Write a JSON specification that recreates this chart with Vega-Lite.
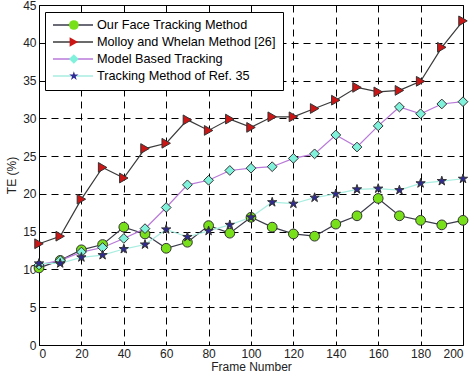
{
  "$schema": "https://vega.github.io/schema/vega-lite/v6.json",
  "width": 424,
  "height": 340,
  "autosize": {"type": "none"},
  "padding": {"left": 39, "top": 5, "right": 11, "bottom": 31},
  "background": "white",
  "config": {
    "view": {"stroke": "black", "strokeWidth": 1},
    "font": "Liberation Sans",
    "axis": {
      "grid": true,
      "gridColor": "black",
      "gridDash": [7, 5],
      "gridOpacity": 1,
      "gridWidth": 1,
      "domain": false,
      "ticks": false,
      "labelFont": "Liberation Sans",
      "labelFontSize": 12,
      "labelColor": "#222",
      "titleFont": "Liberation Sans",
      "titleFontSize": 12,
      "titleFontWeight": "normal",
      "titleColor": "#222",
      "labelPadding": 3
    }
  },
  "data": {
    "values": [
      {"f": 0, "te": 10.2, "s": "Our Face Tracking Method", "c": "a"},
      {"f": 10, "te": 11.2, "s": "Our Face Tracking Method", "c": "a"},
      {"f": 20, "te": 12.6, "s": "Our Face Tracking Method", "c": "a"},
      {"f": 30, "te": 13.3, "s": "Our Face Tracking Method", "c": "a"},
      {"f": 40, "te": 15.6, "s": "Our Face Tracking Method", "c": "a"},
      {"f": 50, "te": 14.7, "s": "Our Face Tracking Method", "c": "a"},
      {"f": 60, "te": 12.8, "s": "Our Face Tracking Method", "c": "a"},
      {"f": 70, "te": 13.6, "s": "Our Face Tracking Method", "c": "a"},
      {"f": 80, "te": 15.8, "s": "Our Face Tracking Method", "c": "a"},
      {"f": 90, "te": 14.8, "s": "Our Face Tracking Method", "c": "a"},
      {"f": 100, "te": 16.9, "s": "Our Face Tracking Method", "c": "a"},
      {"f": 110, "te": 15.6, "s": "Our Face Tracking Method", "c": "a"},
      {"f": 120, "te": 14.7, "s": "Our Face Tracking Method", "c": "a"},
      {"f": 130, "te": 14.4, "s": "Our Face Tracking Method", "c": "a"},
      {"f": 140, "te": 16.0, "s": "Our Face Tracking Method", "c": "a"},
      {"f": 150, "te": 17.1, "s": "Our Face Tracking Method", "c": "a"},
      {"f": 160, "te": 19.4, "s": "Our Face Tracking Method", "c": "a"},
      {"f": 170, "te": 17.1, "s": "Our Face Tracking Method", "c": "a"},
      {"f": 180, "te": 16.5, "s": "Our Face Tracking Method", "c": "a"},
      {"f": 190, "te": 15.9, "s": "Our Face Tracking Method", "c": "a"},
      {"f": 200, "te": 16.5, "s": "Our Face Tracking Method", "c": "a"},
      {"f": 0, "te": 13.4, "s": "Molloy and Whelan Method [26]", "c": "b"},
      {"f": 10, "te": 14.4, "s": "Molloy and Whelan Method [26]", "c": "b"},
      {"f": 20, "te": 19.3, "s": "Molloy and Whelan Method [26]", "c": "b"},
      {"f": 30, "te": 23.5, "s": "Molloy and Whelan Method [26]", "c": "b"},
      {"f": 40, "te": 22.1, "s": "Molloy and Whelan Method [26]", "c": "b"},
      {"f": 50, "te": 26.0, "s": "Molloy and Whelan Method [26]", "c": "b"},
      {"f": 60, "te": 26.7, "s": "Molloy and Whelan Method [26]", "c": "b"},
      {"f": 70, "te": 29.8, "s": "Molloy and Whelan Method [26]", "c": "b"},
      {"f": 80, "te": 28.4, "s": "Molloy and Whelan Method [26]", "c": "b"},
      {"f": 90, "te": 29.9, "s": "Molloy and Whelan Method [26]", "c": "b"},
      {"f": 100, "te": 28.8, "s": "Molloy and Whelan Method [26]", "c": "b"},
      {"f": 110, "te": 30.2, "s": "Molloy and Whelan Method [26]", "c": "b"},
      {"f": 120, "te": 30.2, "s": "Molloy and Whelan Method [26]", "c": "b"},
      {"f": 130, "te": 31.3, "s": "Molloy and Whelan Method [26]", "c": "b"},
      {"f": 140, "te": 32.4, "s": "Molloy and Whelan Method [26]", "c": "b"},
      {"f": 150, "te": 34.1, "s": "Molloy and Whelan Method [26]", "c": "b"},
      {"f": 160, "te": 33.5, "s": "Molloy and Whelan Method [26]", "c": "b"},
      {"f": 170, "te": 33.7, "s": "Molloy and Whelan Method [26]", "c": "b"},
      {"f": 180, "te": 34.9, "s": "Molloy and Whelan Method [26]", "c": "b"},
      {"f": 190, "te": 39.4, "s": "Molloy and Whelan Method [26]", "c": "b"},
      {"f": 200, "te": 42.9, "s": "Molloy and Whelan Method [26]", "c": "b"},
      {"f": 0, "te": 10.6, "s": "Model Based Tracking", "c": "c"},
      {"f": 10, "te": 11.2, "s": "Model Based Tracking", "c": "c"},
      {"f": 20, "te": 12.3, "s": "Model Based Tracking", "c": "c"},
      {"f": 30, "te": 12.9, "s": "Model Based Tracking", "c": "c"},
      {"f": 40, "te": 14.1, "s": "Model Based Tracking", "c": "c"},
      {"f": 50, "te": 15.4, "s": "Model Based Tracking", "c": "c"},
      {"f": 60, "te": 18.2, "s": "Model Based Tracking", "c": "c"},
      {"f": 70, "te": 21.2, "s": "Model Based Tracking", "c": "c"},
      {"f": 80, "te": 21.8, "s": "Model Based Tracking", "c": "c"},
      {"f": 90, "te": 23.1, "s": "Model Based Tracking", "c": "c"},
      {"f": 100, "te": 23.4, "s": "Model Based Tracking", "c": "c"},
      {"f": 110, "te": 23.6, "s": "Model Based Tracking", "c": "c"},
      {"f": 120, "te": 24.7, "s": "Model Based Tracking", "c": "c"},
      {"f": 130, "te": 25.3, "s": "Model Based Tracking", "c": "c"},
      {"f": 140, "te": 27.8, "s": "Model Based Tracking", "c": "c"},
      {"f": 150, "te": 26.2, "s": "Model Based Tracking", "c": "c"},
      {"f": 160, "te": 29.0, "s": "Model Based Tracking", "c": "c"},
      {"f": 170, "te": 31.5, "s": "Model Based Tracking", "c": "c"},
      {"f": 180, "te": 30.6, "s": "Model Based Tracking", "c": "c"},
      {"f": 190, "te": 31.9, "s": "Model Based Tracking", "c": "c"},
      {"f": 200, "te": 32.2, "s": "Model Based Tracking", "c": "c"},
      {"f": 0, "te": 10.8, "s": "Tracking Method of Ref. 35", "c": "d"},
      {"f": 10, "te": 10.8, "s": "Tracking Method of Ref. 35", "c": "d"},
      {"f": 20, "te": 11.6, "s": "Tracking Method of Ref. 35", "c": "d"},
      {"f": 30, "te": 11.9, "s": "Tracking Method of Ref. 35", "c": "d"},
      {"f": 40, "te": 12.7, "s": "Tracking Method of Ref. 35", "c": "d"},
      {"f": 50, "te": 13.3, "s": "Tracking Method of Ref. 35", "c": "d"},
      {"f": 60, "te": 15.3, "s": "Tracking Method of Ref. 35", "c": "d"},
      {"f": 70, "te": 14.3, "s": "Tracking Method of Ref. 35", "c": "d"},
      {"f": 80, "te": 15.1, "s": "Tracking Method of Ref. 35", "c": "d"},
      {"f": 90, "te": 15.9, "s": "Tracking Method of Ref. 35", "c": "d"},
      {"f": 100, "te": 16.9, "s": "Tracking Method of Ref. 35", "c": "d"},
      {"f": 110, "te": 18.9, "s": "Tracking Method of Ref. 35", "c": "d"},
      {"f": 120, "te": 18.7, "s": "Tracking Method of Ref. 35", "c": "d"},
      {"f": 130, "te": 19.5, "s": "Tracking Method of Ref. 35", "c": "d"},
      {"f": 140, "te": 20.0, "s": "Tracking Method of Ref. 35", "c": "d"},
      {"f": 150, "te": 20.6, "s": "Tracking Method of Ref. 35", "c": "d"},
      {"f": 160, "te": 20.7, "s": "Tracking Method of Ref. 35", "c": "d"},
      {"f": 170, "te": 20.5, "s": "Tracking Method of Ref. 35", "c": "d"},
      {"f": 180, "te": 21.4, "s": "Tracking Method of Ref. 35", "c": "d"},
      {"f": 190, "te": 21.7, "s": "Tracking Method of Ref. 35", "c": "d"},
      {"f": 200, "te": 22.0, "s": "Tracking Method of Ref. 35", "c": "d"}
    ]
  },
  "encoding": {
    "x": {
      "field": "f", "type": "quantitative",
      "scale": {"domain": [0, 200], "nice": false},
      "axis": {"values": [0, 20, 40, 60, 80, 100, 120, 140, 160, 180, 200], "title": "Frame Number", "titlePadding": 2}
    },
    "y": {
      "field": "te", "type": "quantitative",
      "scale": {"domain": [0, 45], "nice": false},
      "axis": {"values": [0, 5, 10, 15, 20, 25, 30, 35, 40, 45], "title": "TE (%)", "titlePadding": 4}
    }
  },
  "layer": [
    {
      "mark": {"type": "line", "strokeWidth": 1.2},
      "encoding": {
        "color": {
          "field": "s", "type": "nominal",
          "scale": {
            "domain": ["Our Face Tracking Method", "Molloy and Whelan Method [26]", "Model Based Tracking", "Tracking Method of Ref. 35"],
            "range": ["#3a3a4a", "#3a3a3a", "#b878d8", "#a8eee0"]
          },
          "legend": {
            "title": null,
            "orient": "none",
            "legendX": 6,
            "legendY": 7,
            "symbolType": "stroke",
            "symbolSize": 1600,
            "symbolStrokeWidth": 1.5,
            "clipHeight": 12,
            "rowPadding": 4,
            "padding": 7,
            "labelOffset": 3,
            "labelFont": "Liberation Sans",
            "labelFontSize": 12.7,
            "labelColor": "black",
            "labelLimit": 300,
            "strokeColor": "black",
            "fillColor": "white",
            "cornerRadius": 0
          }
        }
      }
    },
    {
      "mark": {"type": "point", "filled": true, "size": 95, "stroke": "#333333", "strokeWidth": 1, "opacity": 1},
      "encoding": {
        "shape": {
          "field": "c", "type": "nominal",
          "scale": {"domain": ["a", "b", "c", "d"], "range": ["circle", "triangle-right", "diamond", "M0,-1L0.225,-0.309L0.951,-0.309L0.363,0.118L0.588,0.809L0,0.382L-0.588,0.809L-0.363,0.118L-0.951,-0.309L-0.225,-0.309Z"]},
          "legend": {
            "title": null,
            "orient": "none",
            "legendX": 21.5,
            "legendY": 7,
            "symbolSize": 95,
            "symbolStrokeColor": "#333333",
            "symbolStrokeWidth": 1,
            "clipHeight": 12,
            "rowPadding": 4,
            "padding": 7,
            "labelOpacity": 0,
            "labelFontSize": 12.7,
            "labelFont": "Liberation Sans"
          }
        },
        "fill": {
          "field": "c", "type": "nominal",
          "scale": {"domain": ["a", "b", "c", "d"], "range": ["#77e01a", "#cc1515", "#80f2dc", "#2f2a94"]}
        }
      }
    }
  ]
}
